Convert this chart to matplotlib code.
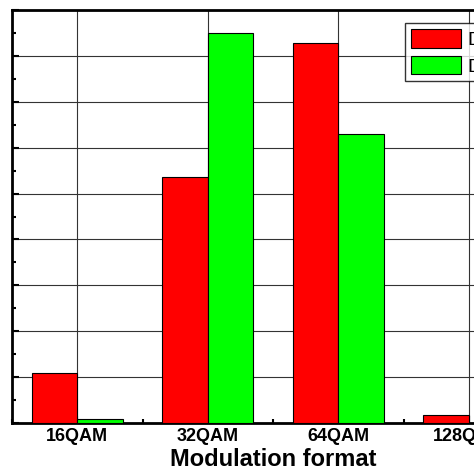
import matplotlib
matplotlib.use("Agg")
import matplotlib.pyplot as plt
import numpy as np
from matplotlib.ticker import MultipleLocator

plt.rcParams['font.family'] = ['Liberation Sans', 'DejaVu Sans']

categories = ["16QAM", "32QAM", "64QAM", "128QAM"]
series1 = [1.1, 5.35, 8.28, 0.17]
series2 = [0.09, 8.5, 6.3, 0.0]
labels = ["DSP-I", "DSP-II"]

fig = plt.figure(figsize=(4.74, 4.74), dpi=100)
W = H = 474
ax = fig.add_axes([12 / W, (H - 423) / H, 522 / W, 413 / H])
x = np.arange(len(categories))
w = 0.35
ax.bar(x - w / 2, series1, w, color="#ff0000", edgecolor="black", linewidth=0.8, label=labels[0], zorder=3)
ax.bar(x + w / 2, series2, w, color="#00ff00", edgecolor="black", linewidth=0.8, label=labels[1], zorder=3)
ax.set_xlim(-0.5, 3.5)
ax.set_ylim(0, 9)
ax.set_xticks(x)
ax.set_xticklabels(categories, fontweight="bold", fontsize=13)
ax.xaxis.set_minor_locator(MultipleLocator(0.5))
ax.yaxis.set_major_locator(MultipleLocator(1))
ax.yaxis.set_minor_locator(MultipleLocator(0.5))
ax.set_yticklabels([])
ax.tick_params(which="both", direction="in", width=1.5, top=False, right=False)
ax.tick_params(which="major", length=5)
ax.tick_params(which="minor", length=3)
ax.grid(True, which="major", color="#333333", linewidth=0.8, zorder=0)
for s in ax.spines.values():
    s.set_linewidth(2)
ax.set_xlabel("Modulation format", fontweight="bold", fontsize=17, labelpad=2)
leg = ax.legend(loc="upper left", bbox_to_anchor=(405 / W, (H - 23) / H), bbox_transform=fig.transFigure,
                fontsize=14, frameon=True, fancybox=False, edgecolor="black", handlelength=2.6, handleheight=1.1,
                handletextpad=0.3, borderpad=0.3, borderaxespad=0, labelspacing=0.35)
leg.get_frame().set_linewidth(1)
fig.savefig("out.png", dpi=100)
